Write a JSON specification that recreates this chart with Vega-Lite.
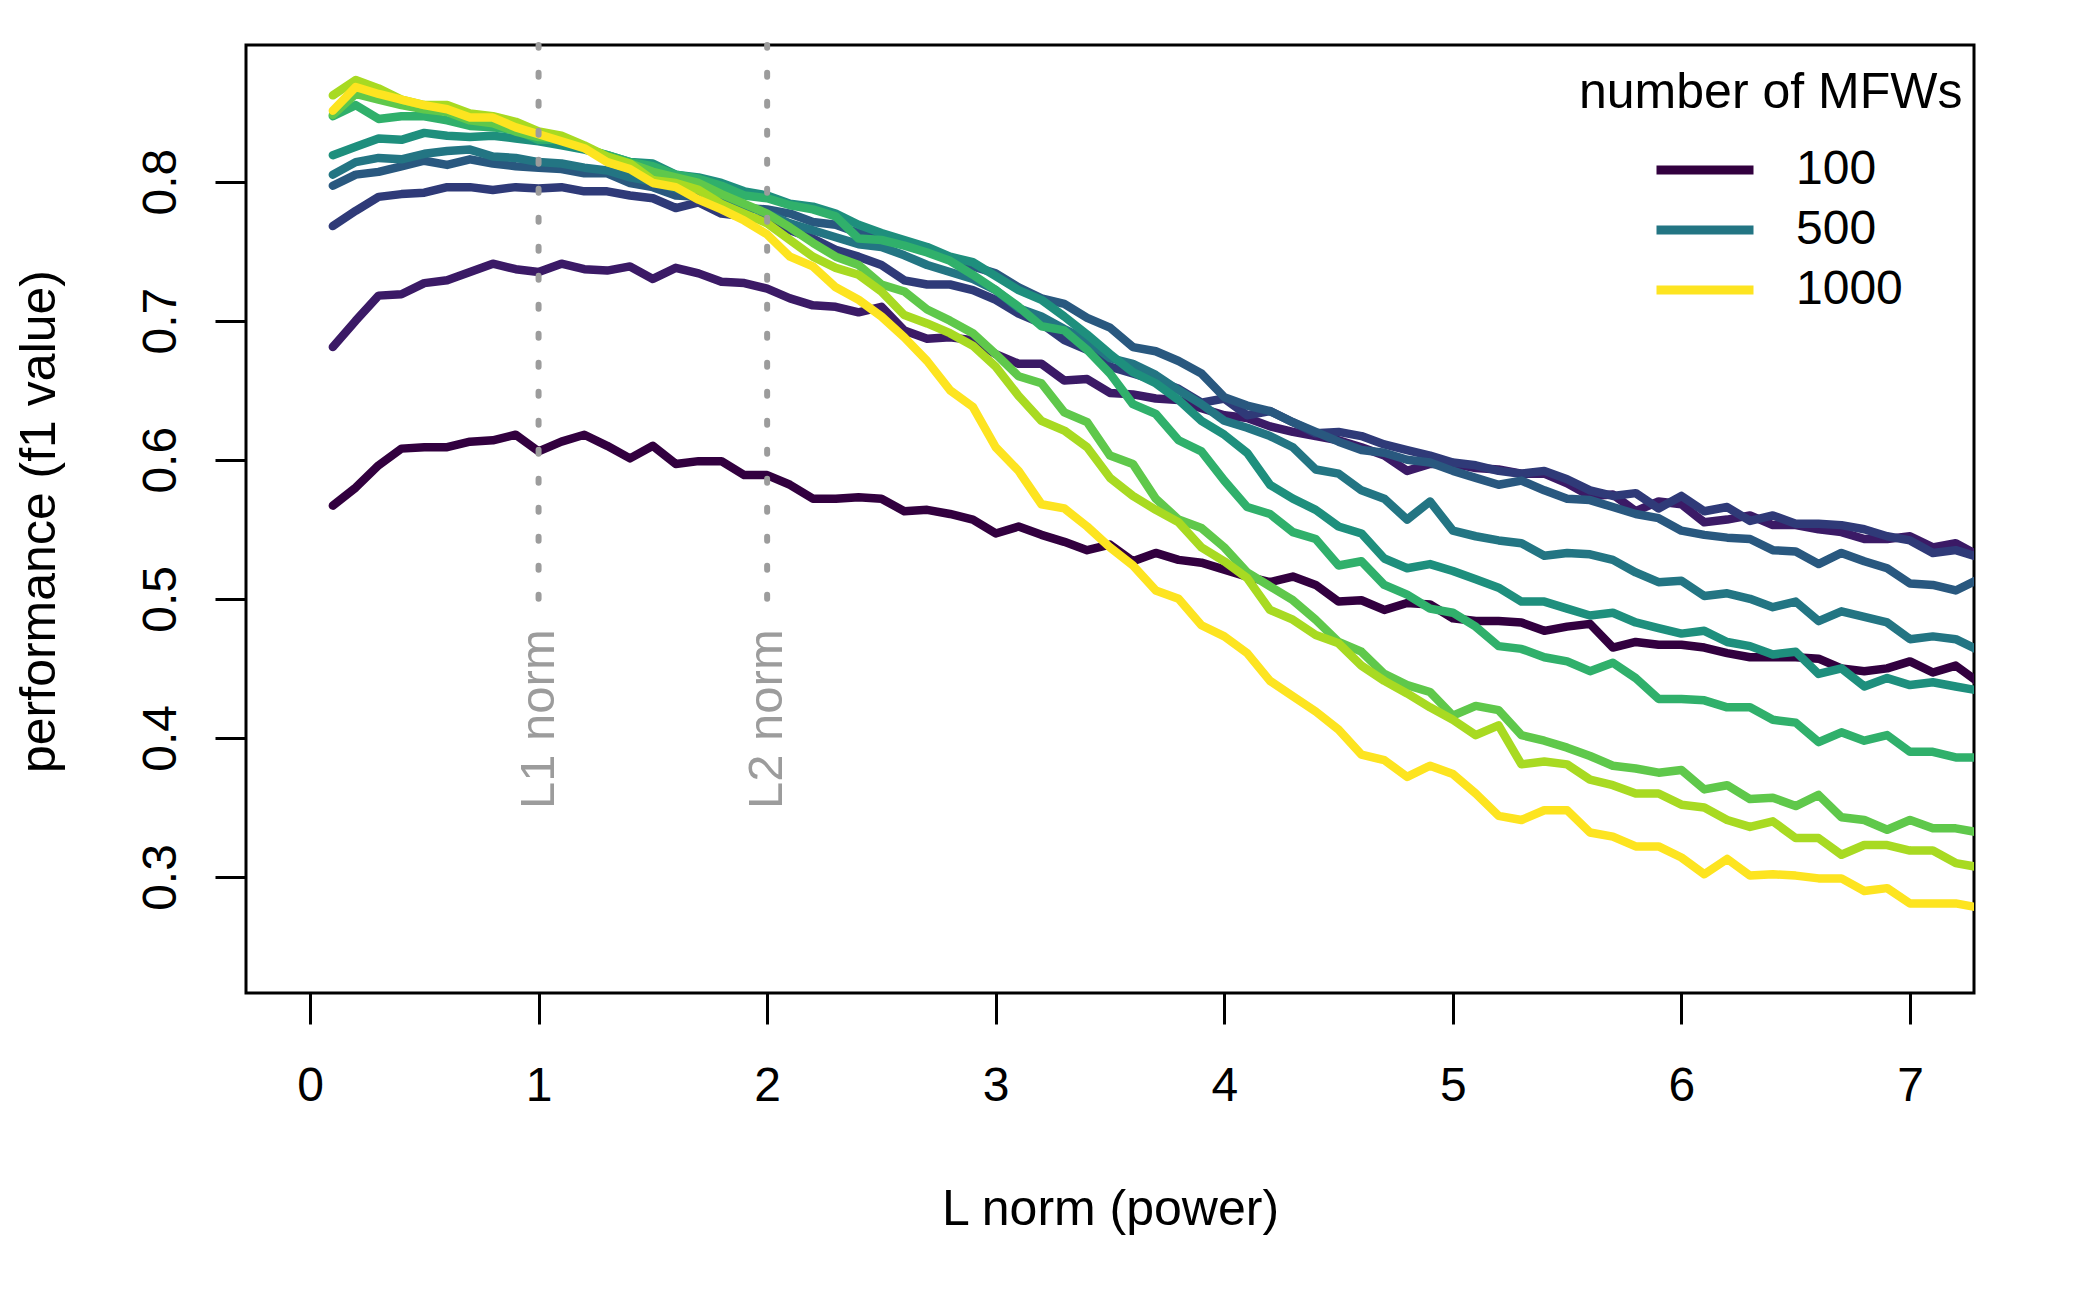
{
"$schema": "https://vega.github.io/schema/vega-lite/v6.json",
"width": 1728,
"height": 948,
"autosize": {"type": "none"},
"padding": {"left": 246, "top": 45, "right": 126, "bottom": 307},
"background": "white",
"config": {
"view": {"stroke": "black", "strokeWidth": 3},
"font": "Liberation Sans",
"axis": {"domain": false, "grid": false, "ticks": true, "tickColor": "black", "tickWidth": 3, "tickSize": 31, "labelFont": "Liberation Sans", "labelFontSize": 48, "labelColor": "black", "titleFont": "Liberation Sans", "titleFontSize": 50, "titleFontWeight": "normal", "titleColor": "black", "labelFlush": false, "labelOverlap": false}
},
"layer": [
{
"data": {"values": [
{"power":0.1,"mfw":100,"f1":0.567},{"power":0.2,"mfw":100,"f1":0.580},{"power":0.3,"mfw":100,"f1":0.596},{"power":0.4,"mfw":100,"f1":0.608},{"power":0.5,"mfw":100,"f1":0.609},{"power":0.6,"mfw":100,"f1":0.609},{"power":0.7,"mfw":100,"f1":0.613},{"power":0.8,"mfw":100,"f1":0.614},{"power":0.9,"mfw":100,"f1":0.618},{"power":1.0,"mfw":100,"f1":0.606},
{"power":1.1,"mfw":100,"f1":0.613},{"power":1.2,"mfw":100,"f1":0.618},{"power":1.3,"mfw":100,"f1":0.610},{"power":1.4,"mfw":100,"f1":0.601},{"power":1.5,"mfw":100,"f1":0.610},{"power":1.6,"mfw":100,"f1":0.597},{"power":1.7,"mfw":100,"f1":0.599},{"power":1.8,"mfw":100,"f1":0.599},{"power":1.9,"mfw":100,"f1":0.589},{"power":2.0,"mfw":100,"f1":0.589},
{"power":2.1,"mfw":100,"f1":0.582},{"power":2.2,"mfw":100,"f1":0.572},{"power":2.3,"mfw":100,"f1":0.572},{"power":2.4,"mfw":100,"f1":0.573},{"power":2.5,"mfw":100,"f1":0.572},{"power":2.6,"mfw":100,"f1":0.563},{"power":2.7,"mfw":100,"f1":0.564},{"power":2.8,"mfw":100,"f1":0.561},{"power":2.9,"mfw":100,"f1":0.557},{"power":3.0,"mfw":100,"f1":0.547},
{"power":3.1,"mfw":100,"f1":0.552},{"power":3.2,"mfw":100,"f1":0.546},{"power":3.3,"mfw":100,"f1":0.541},{"power":3.4,"mfw":100,"f1":0.535},{"power":3.5,"mfw":100,"f1":0.539},{"power":3.6,"mfw":100,"f1":0.527},{"power":3.7,"mfw":100,"f1":0.533},{"power":3.8,"mfw":100,"f1":0.528},{"power":3.9,"mfw":100,"f1":0.526},{"power":4.0,"mfw":100,"f1":0.521},
{"power":4.1,"mfw":100,"f1":0.516},{"power":4.2,"mfw":100,"f1":0.512},{"power":4.3,"mfw":100,"f1":0.516},{"power":4.4,"mfw":100,"f1":0.510},{"power":4.5,"mfw":100,"f1":0.498},{"power":4.6,"mfw":100,"f1":0.499},{"power":4.7,"mfw":100,"f1":0.492},{"power":4.8,"mfw":100,"f1":0.497},{"power":4.9,"mfw":100,"f1":0.496},{"power":5.0,"mfw":100,"f1":0.486},
{"power":5.1,"mfw":100,"f1":0.484},{"power":5.2,"mfw":100,"f1":0.484},{"power":5.3,"mfw":100,"f1":0.483},{"power":5.4,"mfw":100,"f1":0.477},{"power":5.5,"mfw":100,"f1":0.480},{"power":5.6,"mfw":100,"f1":0.482},{"power":5.7,"mfw":100,"f1":0.465},{"power":5.8,"mfw":100,"f1":0.469},{"power":5.9,"mfw":100,"f1":0.467},{"power":6.0,"mfw":100,"f1":0.467},
{"power":6.1,"mfw":100,"f1":0.465},{"power":6.2,"mfw":100,"f1":0.461},{"power":6.3,"mfw":100,"f1":0.458},{"power":6.4,"mfw":100,"f1":0.458},{"power":6.5,"mfw":100,"f1":0.458},{"power":6.6,"mfw":100,"f1":0.457},{"power":6.7,"mfw":100,"f1":0.450},{"power":6.8,"mfw":100,"f1":0.448},{"power":6.9,"mfw":100,"f1":0.450},{"power":7.0,"mfw":100,"f1":0.455},
{"power":7.1,"mfw":100,"f1":0.447},{"power":7.2,"mfw":100,"f1":0.452},{"power":7.3,"mfw":100,"f1":0.440},
{"power":0.1,"mfw":200,"f1":0.681},{"power":0.2,"mfw":200,"f1":0.700},{"power":0.3,"mfw":200,"f1":0.718},{"power":0.4,"mfw":200,"f1":0.719},{"power":0.5,"mfw":200,"f1":0.727},{"power":0.6,"mfw":200,"f1":0.729},{"power":0.7,"mfw":200,"f1":0.735},{"power":0.8,"mfw":200,"f1":0.741},{"power":0.9,"mfw":200,"f1":0.737},{"power":1.0,"mfw":200,"f1":0.735},
{"power":1.1,"mfw":200,"f1":0.741},{"power":1.2,"mfw":200,"f1":0.737},{"power":1.3,"mfw":200,"f1":0.736},{"power":1.4,"mfw":200,"f1":0.739},{"power":1.5,"mfw":200,"f1":0.730},{"power":1.6,"mfw":200,"f1":0.738},{"power":1.7,"mfw":200,"f1":0.734},{"power":1.8,"mfw":200,"f1":0.728},{"power":1.9,"mfw":200,"f1":0.727},{"power":2.0,"mfw":200,"f1":0.723},
{"power":2.1,"mfw":200,"f1":0.716},{"power":2.2,"mfw":200,"f1":0.711},{"power":2.3,"mfw":200,"f1":0.710},{"power":2.4,"mfw":200,"f1":0.706},{"power":2.5,"mfw":200,"f1":0.710},{"power":2.6,"mfw":200,"f1":0.693},{"power":2.7,"mfw":200,"f1":0.687},{"power":2.8,"mfw":200,"f1":0.688},{"power":2.9,"mfw":200,"f1":0.686},{"power":3.0,"mfw":200,"f1":0.676},
{"power":3.1,"mfw":200,"f1":0.669},{"power":3.2,"mfw":200,"f1":0.669},{"power":3.3,"mfw":200,"f1":0.657},{"power":3.4,"mfw":200,"f1":0.658},{"power":3.5,"mfw":200,"f1":0.648},{"power":3.6,"mfw":200,"f1":0.647},{"power":3.7,"mfw":200,"f1":0.644},{"power":3.8,"mfw":200,"f1":0.643},{"power":3.9,"mfw":200,"f1":0.637},{"power":4.0,"mfw":200,"f1":0.632},
{"power":4.1,"mfw":200,"f1":0.630},{"power":4.2,"mfw":200,"f1":0.624},{"power":4.3,"mfw":200,"f1":0.620},{"power":4.4,"mfw":200,"f1":0.617},{"power":4.5,"mfw":200,"f1":0.614},{"power":4.6,"mfw":200,"f1":0.609},{"power":4.7,"mfw":200,"f1":0.603},{"power":4.8,"mfw":200,"f1":0.592},{"power":4.9,"mfw":200,"f1":0.597},{"power":5.0,"mfw":200,"f1":0.597},
{"power":5.1,"mfw":200,"f1":0.594},{"power":5.2,"mfw":200,"f1":0.593},{"power":5.3,"mfw":200,"f1":0.590},{"power":5.4,"mfw":200,"f1":0.590},{"power":5.5,"mfw":200,"f1":0.583},{"power":5.6,"mfw":200,"f1":0.574},{"power":5.7,"mfw":200,"f1":0.575},{"power":5.8,"mfw":200,"f1":0.563},{"power":5.9,"mfw":200,"f1":0.570},{"power":6.0,"mfw":200,"f1":0.568},
{"power":6.1,"mfw":200,"f1":0.555},{"power":6.2,"mfw":200,"f1":0.557},{"power":6.3,"mfw":200,"f1":0.560},{"power":6.4,"mfw":200,"f1":0.553},{"power":6.5,"mfw":200,"f1":0.553},{"power":6.6,"mfw":200,"f1":0.550},{"power":6.7,"mfw":200,"f1":0.548},{"power":6.8,"mfw":200,"f1":0.543},{"power":6.9,"mfw":200,"f1":0.543},{"power":7.0,"mfw":200,"f1":0.545},
{"power":7.1,"mfw":200,"f1":0.537},{"power":7.2,"mfw":200,"f1":0.540},{"power":7.3,"mfw":200,"f1":0.531},
{"power":0.1,"mfw":300,"f1":0.768},{"power":0.2,"mfw":300,"f1":0.779},{"power":0.3,"mfw":300,"f1":0.789},{"power":0.4,"mfw":300,"f1":0.791},{"power":0.5,"mfw":300,"f1":0.792},{"power":0.6,"mfw":300,"f1":0.796},{"power":0.7,"mfw":300,"f1":0.796},{"power":0.8,"mfw":300,"f1":0.794},{"power":0.9,"mfw":300,"f1":0.796},{"power":1.0,"mfw":300,"f1":0.795},
{"power":1.1,"mfw":300,"f1":0.796},{"power":1.2,"mfw":300,"f1":0.793},{"power":1.3,"mfw":300,"f1":0.793},{"power":1.4,"mfw":300,"f1":0.790},{"power":1.5,"mfw":300,"f1":0.788},{"power":1.6,"mfw":300,"f1":0.781},{"power":1.7,"mfw":300,"f1":0.785},{"power":1.8,"mfw":300,"f1":0.777},{"power":1.9,"mfw":300,"f1":0.775},{"power":2.0,"mfw":300,"f1":0.772},
{"power":2.1,"mfw":300,"f1":0.765},{"power":2.2,"mfw":300,"f1":0.759},{"power":2.3,"mfw":300,"f1":0.751},{"power":2.4,"mfw":300,"f1":0.746},{"power":2.5,"mfw":300,"f1":0.740},{"power":2.6,"mfw":300,"f1":0.729},{"power":2.7,"mfw":300,"f1":0.726},{"power":2.8,"mfw":300,"f1":0.726},{"power":2.9,"mfw":300,"f1":0.722},{"power":3.0,"mfw":300,"f1":0.715},
{"power":3.1,"mfw":300,"f1":0.705},{"power":3.2,"mfw":300,"f1":0.698},{"power":3.3,"mfw":300,"f1":0.686},{"power":3.4,"mfw":300,"f1":0.679},{"power":3.5,"mfw":300,"f1":0.667},{"power":3.6,"mfw":300,"f1":0.662},{"power":3.7,"mfw":300,"f1":0.657},{"power":3.8,"mfw":300,"f1":0.651},{"power":3.9,"mfw":300,"f1":0.641},{"power":4.0,"mfw":300,"f1":0.644},
{"power":4.1,"mfw":300,"f1":0.632},{"power":4.2,"mfw":300,"f1":0.635},{"power":4.3,"mfw":300,"f1":0.627},{"power":4.4,"mfw":300,"f1":0.619},{"power":4.5,"mfw":300,"f1":0.620},{"power":4.6,"mfw":300,"f1":0.617},{"power":4.7,"mfw":300,"f1":0.611},{"power":4.8,"mfw":300,"f1":0.607},{"power":4.9,"mfw":300,"f1":0.603},{"power":5.0,"mfw":300,"f1":0.598},
{"power":5.1,"mfw":300,"f1":0.596},{"power":5.2,"mfw":300,"f1":0.592},{"power":5.3,"mfw":300,"f1":0.590},{"power":5.4,"mfw":300,"f1":0.592},{"power":5.5,"mfw":300,"f1":0.586},{"power":5.6,"mfw":300,"f1":0.578},{"power":5.7,"mfw":300,"f1":0.574},{"power":5.8,"mfw":300,"f1":0.576},{"power":5.9,"mfw":300,"f1":0.565},{"power":6.0,"mfw":300,"f1":0.574},
{"power":6.1,"mfw":300,"f1":0.563},{"power":6.2,"mfw":300,"f1":0.566},{"power":6.3,"mfw":300,"f1":0.556},{"power":6.4,"mfw":300,"f1":0.560},{"power":6.5,"mfw":300,"f1":0.554},{"power":6.6,"mfw":300,"f1":0.554},{"power":6.7,"mfw":300,"f1":0.553},{"power":6.8,"mfw":300,"f1":0.550},{"power":6.9,"mfw":300,"f1":0.545},{"power":7.0,"mfw":300,"f1":0.542},
{"power":7.1,"mfw":300,"f1":0.533},{"power":7.2,"mfw":300,"f1":0.535},{"power":7.3,"mfw":300,"f1":0.530},
{"power":0.1,"mfw":400,"f1":0.797},{"power":0.2,"mfw":400,"f1":0.805},{"power":0.3,"mfw":400,"f1":0.807},{"power":0.4,"mfw":400,"f1":0.811},{"power":0.5,"mfw":400,"f1":0.815},{"power":0.6,"mfw":400,"f1":0.812},{"power":0.7,"mfw":400,"f1":0.816},{"power":0.8,"mfw":400,"f1":0.813},{"power":0.9,"mfw":400,"f1":0.811},{"power":1.0,"mfw":400,"f1":0.810},
{"power":1.1,"mfw":400,"f1":0.809},{"power":1.2,"mfw":400,"f1":0.806},{"power":1.3,"mfw":400,"f1":0.806},{"power":1.4,"mfw":400,"f1":0.799},{"power":1.5,"mfw":400,"f1":0.796},{"power":1.6,"mfw":400,"f1":0.790},{"power":1.7,"mfw":400,"f1":0.789},{"power":1.8,"mfw":400,"f1":0.784},{"power":1.9,"mfw":400,"f1":0.781},{"power":2.0,"mfw":400,"f1":0.780},
{"power":2.1,"mfw":400,"f1":0.777},{"power":2.2,"mfw":400,"f1":0.771},{"power":2.3,"mfw":400,"f1":0.769},{"power":2.4,"mfw":400,"f1":0.763},{"power":2.5,"mfw":400,"f1":0.758},{"power":2.6,"mfw":400,"f1":0.755},{"power":2.7,"mfw":400,"f1":0.752},{"power":2.8,"mfw":400,"f1":0.745},{"power":2.9,"mfw":400,"f1":0.739},{"power":3.0,"mfw":400,"f1":0.734},
{"power":3.1,"mfw":400,"f1":0.724},{"power":3.2,"mfw":400,"f1":0.716},{"power":3.3,"mfw":400,"f1":0.712},{"power":3.4,"mfw":400,"f1":0.702},{"power":3.5,"mfw":400,"f1":0.695},{"power":3.6,"mfw":400,"f1":0.681},{"power":3.7,"mfw":400,"f1":0.678},{"power":3.8,"mfw":400,"f1":0.671},{"power":3.9,"mfw":400,"f1":0.662},{"power":4.0,"mfw":400,"f1":0.645},
{"power":4.1,"mfw":400,"f1":0.639},{"power":4.2,"mfw":400,"f1":0.635},{"power":4.3,"mfw":400,"f1":0.627},{"power":4.4,"mfw":400,"f1":0.620},{"power":4.5,"mfw":400,"f1":0.613},{"power":4.6,"mfw":400,"f1":0.607},{"power":4.7,"mfw":400,"f1":0.605},{"power":4.8,"mfw":400,"f1":0.600},{"power":4.9,"mfw":400,"f1":0.598},{"power":5.0,"mfw":400,"f1":0.592},
{"power":5.1,"mfw":400,"f1":0.587},{"power":5.2,"mfw":400,"f1":0.582},{"power":5.3,"mfw":400,"f1":0.585},{"power":5.4,"mfw":400,"f1":0.578},{"power":5.5,"mfw":400,"f1":0.572},{"power":5.6,"mfw":400,"f1":0.571},{"power":5.7,"mfw":400,"f1":0.566},{"power":5.8,"mfw":400,"f1":0.561},{"power":5.9,"mfw":400,"f1":0.558},{"power":6.0,"mfw":400,"f1":0.549},
{"power":6.1,"mfw":400,"f1":0.546},{"power":6.2,"mfw":400,"f1":0.544},{"power":6.3,"mfw":400,"f1":0.543},{"power":6.4,"mfw":400,"f1":0.535},{"power":6.5,"mfw":400,"f1":0.534},{"power":6.6,"mfw":400,"f1":0.525},{"power":6.7,"mfw":400,"f1":0.533},{"power":6.8,"mfw":400,"f1":0.527},{"power":6.9,"mfw":400,"f1":0.522},{"power":7.0,"mfw":400,"f1":0.511},
{"power":7.1,"mfw":400,"f1":0.510},{"power":7.2,"mfw":400,"f1":0.506},{"power":7.3,"mfw":400,"f1":0.514},
{"power":0.1,"mfw":500,"f1":0.805},{"power":0.2,"mfw":500,"f1":0.814},{"power":0.3,"mfw":500,"f1":0.817},{"power":0.4,"mfw":500,"f1":0.816},{"power":0.5,"mfw":500,"f1":0.820},{"power":0.6,"mfw":500,"f1":0.822},{"power":0.7,"mfw":500,"f1":0.823},{"power":0.8,"mfw":500,"f1":0.818},{"power":0.9,"mfw":500,"f1":0.817},{"power":1.0,"mfw":500,"f1":0.814},
{"power":1.1,"mfw":500,"f1":0.813},{"power":1.2,"mfw":500,"f1":0.810},{"power":1.3,"mfw":500,"f1":0.808},{"power":1.4,"mfw":500,"f1":0.803},{"power":1.5,"mfw":500,"f1":0.800},{"power":1.6,"mfw":500,"f1":0.795},{"power":1.7,"mfw":500,"f1":0.790},{"power":1.8,"mfw":500,"f1":0.787},{"power":1.9,"mfw":500,"f1":0.783},{"power":2.0,"mfw":500,"f1":0.777},
{"power":2.1,"mfw":500,"f1":0.770},{"power":2.2,"mfw":500,"f1":0.765},{"power":2.3,"mfw":500,"f1":0.760},{"power":2.4,"mfw":500,"f1":0.755},{"power":2.5,"mfw":500,"f1":0.753},{"power":2.6,"mfw":500,"f1":0.747},{"power":2.7,"mfw":500,"f1":0.740},{"power":2.8,"mfw":500,"f1":0.735},{"power":2.9,"mfw":500,"f1":0.730},{"power":3.0,"mfw":500,"f1":0.722},
{"power":3.1,"mfw":500,"f1":0.709},{"power":3.2,"mfw":500,"f1":0.703},{"power":3.3,"mfw":500,"f1":0.694},{"power":3.4,"mfw":500,"f1":0.686},{"power":3.5,"mfw":500,"f1":0.673},{"power":3.6,"mfw":500,"f1":0.669},{"power":3.7,"mfw":500,"f1":0.661},{"power":3.8,"mfw":500,"f1":0.650},{"power":3.9,"mfw":500,"f1":0.640},{"power":4.0,"mfw":500,"f1":0.628},
{"power":4.1,"mfw":500,"f1":0.623},{"power":4.2,"mfw":500,"f1":0.617},{"power":4.3,"mfw":500,"f1":0.609},{"power":4.4,"mfw":500,"f1":0.593},{"power":4.5,"mfw":500,"f1":0.590},{"power":4.6,"mfw":500,"f1":0.578},{"power":4.7,"mfw":500,"f1":0.572},{"power":4.8,"mfw":500,"f1":0.557},{"power":4.9,"mfw":500,"f1":0.570},{"power":5.0,"mfw":500,"f1":0.549},
{"power":5.1,"mfw":500,"f1":0.545},{"power":5.2,"mfw":500,"f1":0.542},{"power":5.3,"mfw":500,"f1":0.540},{"power":5.4,"mfw":500,"f1":0.531},{"power":5.5,"mfw":500,"f1":0.533},{"power":5.6,"mfw":500,"f1":0.532},{"power":5.7,"mfw":500,"f1":0.528},{"power":5.8,"mfw":500,"f1":0.519},{"power":5.9,"mfw":500,"f1":0.512},{"power":6.0,"mfw":500,"f1":0.513},
{"power":6.1,"mfw":500,"f1":0.502},{"power":6.2,"mfw":500,"f1":0.504},{"power":6.3,"mfw":500,"f1":0.500},{"power":6.4,"mfw":500,"f1":0.494},{"power":6.5,"mfw":500,"f1":0.498},{"power":6.6,"mfw":500,"f1":0.484},{"power":6.7,"mfw":500,"f1":0.491},{"power":6.8,"mfw":500,"f1":0.487},{"power":6.9,"mfw":500,"f1":0.483},{"power":7.0,"mfw":500,"f1":0.471},
{"power":7.1,"mfw":500,"f1":0.473},{"power":7.2,"mfw":500,"f1":0.471},{"power":7.3,"mfw":500,"f1":0.463},
{"power":0.1,"mfw":600,"f1":0.819},{"power":0.2,"mfw":600,"f1":0.825},{"power":0.3,"mfw":600,"f1":0.831},{"power":0.4,"mfw":600,"f1":0.830},{"power":0.5,"mfw":600,"f1":0.835},{"power":0.6,"mfw":600,"f1":0.833},{"power":0.7,"mfw":600,"f1":0.832},{"power":0.8,"mfw":600,"f1":0.833},{"power":0.9,"mfw":600,"f1":0.831},{"power":1.0,"mfw":600,"f1":0.829},
{"power":1.1,"mfw":600,"f1":0.826},{"power":1.2,"mfw":600,"f1":0.823},{"power":1.3,"mfw":600,"f1":0.819},{"power":1.4,"mfw":600,"f1":0.814},{"power":1.5,"mfw":600,"f1":0.813},{"power":1.6,"mfw":600,"f1":0.805},{"power":1.7,"mfw":600,"f1":0.803},{"power":1.8,"mfw":600,"f1":0.799},{"power":1.9,"mfw":600,"f1":0.793},{"power":2.0,"mfw":600,"f1":0.790},
{"power":2.1,"mfw":600,"f1":0.784},{"power":2.2,"mfw":600,"f1":0.782},{"power":2.3,"mfw":600,"f1":0.777},{"power":2.4,"mfw":600,"f1":0.769},{"power":2.5,"mfw":600,"f1":0.763},{"power":2.6,"mfw":600,"f1":0.758},{"power":2.7,"mfw":600,"f1":0.753},{"power":2.8,"mfw":600,"f1":0.746},{"power":2.9,"mfw":600,"f1":0.742},{"power":3.0,"mfw":600,"f1":0.732},
{"power":3.1,"mfw":600,"f1":0.722},{"power":3.2,"mfw":600,"f1":0.715},{"power":3.3,"mfw":600,"f1":0.703},{"power":3.4,"mfw":600,"f1":0.690},{"power":3.5,"mfw":600,"f1":0.676},{"power":3.6,"mfw":600,"f1":0.663},{"power":3.7,"mfw":600,"f1":0.655},{"power":3.8,"mfw":600,"f1":0.643},{"power":3.9,"mfw":600,"f1":0.628},{"power":4.0,"mfw":600,"f1":0.618},
{"power":4.1,"mfw":600,"f1":0.605},{"power":4.2,"mfw":600,"f1":0.582},{"power":4.3,"mfw":600,"f1":0.572},{"power":4.4,"mfw":600,"f1":0.564},{"power":4.5,"mfw":600,"f1":0.552},{"power":4.6,"mfw":600,"f1":0.547},{"power":4.7,"mfw":600,"f1":0.529},{"power":4.8,"mfw":600,"f1":0.522},{"power":4.9,"mfw":600,"f1":0.525},{"power":5.0,"mfw":600,"f1":0.520},
{"power":5.1,"mfw":600,"f1":0.514},{"power":5.2,"mfw":600,"f1":0.508},{"power":5.3,"mfw":600,"f1":0.498},{"power":5.4,"mfw":600,"f1":0.498},{"power":5.5,"mfw":600,"f1":0.493},{"power":5.6,"mfw":600,"f1":0.488},{"power":5.7,"mfw":600,"f1":0.490},{"power":5.8,"mfw":600,"f1":0.483},{"power":5.9,"mfw":600,"f1":0.479},{"power":6.0,"mfw":600,"f1":0.475},
{"power":6.1,"mfw":600,"f1":0.477},{"power":6.2,"mfw":600,"f1":0.469},{"power":6.3,"mfw":600,"f1":0.466},{"power":6.4,"mfw":600,"f1":0.460},{"power":6.5,"mfw":600,"f1":0.462},{"power":6.6,"mfw":600,"f1":0.446},{"power":6.7,"mfw":600,"f1":0.450},{"power":6.8,"mfw":600,"f1":0.437},{"power":6.9,"mfw":600,"f1":0.443},{"power":7.0,"mfw":600,"f1":0.438},
{"power":7.1,"mfw":600,"f1":0.440},{"power":7.2,"mfw":600,"f1":0.437},{"power":7.3,"mfw":600,"f1":0.434},
{"power":0.1,"mfw":700,"f1":0.847},{"power":0.2,"mfw":700,"f1":0.855},{"power":0.3,"mfw":700,"f1":0.845},{"power":0.4,"mfw":700,"f1":0.847},{"power":0.5,"mfw":700,"f1":0.847},{"power":0.6,"mfw":700,"f1":0.844},{"power":0.7,"mfw":700,"f1":0.840},{"power":0.8,"mfw":700,"f1":0.839},{"power":0.9,"mfw":700,"f1":0.837},{"power":1.0,"mfw":700,"f1":0.830},
{"power":1.1,"mfw":700,"f1":0.830},{"power":1.2,"mfw":700,"f1":0.824},{"power":1.3,"mfw":700,"f1":0.819},{"power":1.4,"mfw":700,"f1":0.814},{"power":1.5,"mfw":700,"f1":0.811},{"power":1.6,"mfw":700,"f1":0.805},{"power":1.7,"mfw":700,"f1":0.802},{"power":1.8,"mfw":700,"f1":0.797},{"power":1.9,"mfw":700,"f1":0.790},{"power":2.0,"mfw":700,"f1":0.788},
{"power":2.1,"mfw":700,"f1":0.783},{"power":2.2,"mfw":700,"f1":0.780},{"power":2.3,"mfw":700,"f1":0.775},{"power":2.4,"mfw":700,"f1":0.759},{"power":2.5,"mfw":700,"f1":0.758},{"power":2.6,"mfw":700,"f1":0.754},{"power":2.7,"mfw":700,"f1":0.749},{"power":2.8,"mfw":700,"f1":0.743},{"power":2.9,"mfw":700,"f1":0.733},{"power":3.0,"mfw":700,"f1":0.722},
{"power":3.1,"mfw":700,"f1":0.710},{"power":3.2,"mfw":700,"f1":0.696},{"power":3.3,"mfw":700,"f1":0.693},{"power":3.4,"mfw":700,"f1":0.679},{"power":3.5,"mfw":700,"f1":0.662},{"power":3.6,"mfw":700,"f1":0.640},{"power":3.7,"mfw":700,"f1":0.633},{"power":3.8,"mfw":700,"f1":0.614},{"power":3.9,"mfw":700,"f1":0.606},{"power":4.0,"mfw":700,"f1":0.585},
{"power":4.1,"mfw":700,"f1":0.566},{"power":4.2,"mfw":700,"f1":0.561},{"power":4.3,"mfw":700,"f1":0.548},{"power":4.4,"mfw":700,"f1":0.543},{"power":4.5,"mfw":700,"f1":0.524},{"power":4.6,"mfw":700,"f1":0.527},{"power":4.7,"mfw":700,"f1":0.510},{"power":4.8,"mfw":700,"f1":0.503},{"power":4.9,"mfw":700,"f1":0.493},{"power":5.0,"mfw":700,"f1":0.490},
{"power":5.1,"mfw":700,"f1":0.480},{"power":5.2,"mfw":700,"f1":0.466},{"power":5.3,"mfw":700,"f1":0.464},{"power":5.4,"mfw":700,"f1":0.458},{"power":5.5,"mfw":700,"f1":0.455},{"power":5.6,"mfw":700,"f1":0.448},{"power":5.7,"mfw":700,"f1":0.454},{"power":5.8,"mfw":700,"f1":0.443},{"power":5.9,"mfw":700,"f1":0.428},{"power":6.0,"mfw":700,"f1":0.428},
{"power":6.1,"mfw":700,"f1":0.427},{"power":6.2,"mfw":700,"f1":0.422},{"power":6.3,"mfw":700,"f1":0.422},{"power":6.4,"mfw":700,"f1":0.413},{"power":6.5,"mfw":700,"f1":0.411},{"power":6.6,"mfw":700,"f1":0.397},{"power":6.7,"mfw":700,"f1":0.404},{"power":6.8,"mfw":700,"f1":0.398},{"power":6.9,"mfw":700,"f1":0.402},{"power":7.0,"mfw":700,"f1":0.390},
{"power":7.1,"mfw":700,"f1":0.390},{"power":7.2,"mfw":700,"f1":0.386},{"power":7.3,"mfw":700,"f1":0.386},
{"power":0.1,"mfw":800,"f1":0.848},{"power":0.2,"mfw":800,"f1":0.863},{"power":0.3,"mfw":800,"f1":0.859},{"power":0.4,"mfw":800,"f1":0.855},{"power":0.5,"mfw":800,"f1":0.852},{"power":0.6,"mfw":800,"f1":0.850},{"power":0.7,"mfw":800,"f1":0.844},{"power":0.8,"mfw":800,"f1":0.842},{"power":0.9,"mfw":800,"f1":0.836},{"power":1.0,"mfw":800,"f1":0.832},
{"power":1.1,"mfw":800,"f1":0.831},{"power":1.2,"mfw":800,"f1":0.825},{"power":1.3,"mfw":800,"f1":0.818},{"power":1.4,"mfw":800,"f1":0.813},{"power":1.5,"mfw":800,"f1":0.807},{"power":1.6,"mfw":800,"f1":0.803},{"power":1.7,"mfw":800,"f1":0.799},{"power":1.8,"mfw":800,"f1":0.791},{"power":1.9,"mfw":800,"f1":0.784},{"power":2.0,"mfw":800,"f1":0.777},
{"power":2.1,"mfw":800,"f1":0.767},{"power":2.2,"mfw":800,"f1":0.756},{"power":2.3,"mfw":800,"f1":0.746},{"power":2.4,"mfw":800,"f1":0.740},{"power":2.5,"mfw":800,"f1":0.726},{"power":2.6,"mfw":800,"f1":0.721},{"power":2.7,"mfw":800,"f1":0.708},{"power":2.8,"mfw":800,"f1":0.700},{"power":2.9,"mfw":800,"f1":0.691},{"power":3.0,"mfw":800,"f1":0.676},
{"power":3.1,"mfw":800,"f1":0.660},{"power":3.2,"mfw":800,"f1":0.655},{"power":3.3,"mfw":800,"f1":0.634},{"power":3.4,"mfw":800,"f1":0.627},{"power":3.5,"mfw":800,"f1":0.603},{"power":3.6,"mfw":800,"f1":0.597},{"power":3.7,"mfw":800,"f1":0.572},{"power":3.8,"mfw":800,"f1":0.557},{"power":3.9,"mfw":800,"f1":0.551},{"power":4.0,"mfw":800,"f1":0.537},
{"power":4.1,"mfw":800,"f1":0.519},{"power":4.2,"mfw":800,"f1":0.509},{"power":4.3,"mfw":800,"f1":0.499},{"power":4.4,"mfw":800,"f1":0.485},{"power":4.5,"mfw":800,"f1":0.469},{"power":4.6,"mfw":800,"f1":0.462},{"power":4.7,"mfw":800,"f1":0.446},{"power":4.8,"mfw":800,"f1":0.438},{"power":4.9,"mfw":800,"f1":0.433},{"power":5.0,"mfw":800,"f1":0.416},
{"power":5.1,"mfw":800,"f1":0.423},{"power":5.2,"mfw":800,"f1":0.420},{"power":5.3,"mfw":800,"f1":0.402},{"power":5.4,"mfw":800,"f1":0.398},{"power":5.5,"mfw":800,"f1":0.393},{"power":5.6,"mfw":800,"f1":0.387},{"power":5.7,"mfw":800,"f1":0.380},{"power":5.8,"mfw":800,"f1":0.378},{"power":5.9,"mfw":800,"f1":0.375},{"power":6.0,"mfw":800,"f1":0.377},
{"power":6.1,"mfw":800,"f1":0.363},{"power":6.2,"mfw":800,"f1":0.366},{"power":6.3,"mfw":800,"f1":0.356},{"power":6.4,"mfw":800,"f1":0.357},{"power":6.5,"mfw":800,"f1":0.351},{"power":6.6,"mfw":800,"f1":0.359},{"power":6.7,"mfw":800,"f1":0.343},{"power":6.8,"mfw":800,"f1":0.341},{"power":6.9,"mfw":800,"f1":0.334},{"power":7.0,"mfw":800,"f1":0.341},
{"power":7.1,"mfw":800,"f1":0.335},{"power":7.2,"mfw":800,"f1":0.335},{"power":7.3,"mfw":800,"f1":0.332},
{"power":0.1,"mfw":900,"f1":0.862},{"power":0.2,"mfw":900,"f1":0.873},{"power":0.3,"mfw":900,"f1":0.867},{"power":0.4,"mfw":900,"f1":0.859},{"power":0.5,"mfw":900,"f1":0.855},{"power":0.6,"mfw":900,"f1":0.855},{"power":0.7,"mfw":900,"f1":0.849},{"power":0.8,"mfw":900,"f1":0.847},{"power":0.9,"mfw":900,"f1":0.843},{"power":1.0,"mfw":900,"f1":0.836},
{"power":1.1,"mfw":900,"f1":0.833},{"power":1.2,"mfw":900,"f1":0.826},{"power":1.3,"mfw":900,"f1":0.818},{"power":1.4,"mfw":900,"f1":0.813},{"power":1.5,"mfw":900,"f1":0.801},{"power":1.6,"mfw":900,"f1":0.799},{"power":1.7,"mfw":900,"f1":0.794},{"power":1.8,"mfw":900,"f1":0.784},{"power":1.9,"mfw":900,"f1":0.777},{"power":2.0,"mfw":900,"f1":0.770},
{"power":2.1,"mfw":900,"f1":0.758},{"power":2.2,"mfw":900,"f1":0.746},{"power":2.3,"mfw":900,"f1":0.738},{"power":2.4,"mfw":900,"f1":0.733},{"power":2.5,"mfw":900,"f1":0.721},{"power":2.6,"mfw":900,"f1":0.704},{"power":2.7,"mfw":900,"f1":0.698},{"power":2.8,"mfw":900,"f1":0.691},{"power":2.9,"mfw":900,"f1":0.682},{"power":3.0,"mfw":900,"f1":0.667},
{"power":3.1,"mfw":900,"f1":0.646},{"power":3.2,"mfw":900,"f1":0.628},{"power":3.3,"mfw":900,"f1":0.621},{"power":3.4,"mfw":900,"f1":0.609},{"power":3.5,"mfw":900,"f1":0.587},{"power":3.6,"mfw":900,"f1":0.574},{"power":3.7,"mfw":900,"f1":0.564},{"power":3.8,"mfw":900,"f1":0.555},{"power":3.9,"mfw":900,"f1":0.537},{"power":4.0,"mfw":900,"f1":0.527},
{"power":4.1,"mfw":900,"f1":0.515},{"power":4.2,"mfw":900,"f1":0.492},{"power":4.3,"mfw":900,"f1":0.485},{"power":4.4,"mfw":900,"f1":0.474},{"power":4.5,"mfw":900,"f1":0.468},{"power":4.6,"mfw":900,"f1":0.452},{"power":4.7,"mfw":900,"f1":0.441},{"power":4.8,"mfw":900,"f1":0.432},{"power":4.9,"mfw":900,"f1":0.422},{"power":5.0,"mfw":900,"f1":0.413},
{"power":5.1,"mfw":900,"f1":0.402},{"power":5.2,"mfw":900,"f1":0.409},{"power":5.3,"mfw":900,"f1":0.381},{"power":5.4,"mfw":900,"f1":0.383},{"power":5.5,"mfw":900,"f1":0.381},{"power":5.6,"mfw":900,"f1":0.370},{"power":5.7,"mfw":900,"f1":0.366},{"power":5.8,"mfw":900,"f1":0.360},{"power":5.9,"mfw":900,"f1":0.360},{"power":6.0,"mfw":900,"f1":0.352},
{"power":6.1,"mfw":900,"f1":0.350},{"power":6.2,"mfw":900,"f1":0.341},{"power":6.3,"mfw":900,"f1":0.336},{"power":6.4,"mfw":900,"f1":0.340},{"power":6.5,"mfw":900,"f1":0.328},{"power":6.6,"mfw":900,"f1":0.328},{"power":6.7,"mfw":900,"f1":0.316},{"power":6.8,"mfw":900,"f1":0.323},{"power":6.9,"mfw":900,"f1":0.323},{"power":7.0,"mfw":900,"f1":0.319},
{"power":7.1,"mfw":900,"f1":0.319},{"power":7.2,"mfw":900,"f1":0.310},{"power":7.3,"mfw":900,"f1":0.307},
{"power":0.1,"mfw":1000,"f1":0.851},{"power":0.2,"mfw":1000,"f1":0.868},{"power":0.3,"mfw":1000,"f1":0.863},{"power":0.4,"mfw":1000,"f1":0.859},{"power":0.5,"mfw":1000,"f1":0.855},{"power":0.6,"mfw":1000,"f1":0.852},{"power":0.7,"mfw":1000,"f1":0.846},{"power":0.8,"mfw":1000,"f1":0.846},{"power":0.9,"mfw":1000,"f1":0.839},{"power":1.0,"mfw":1000,"f1":0.834},
{"power":1.1,"mfw":1000,"f1":0.829},{"power":1.2,"mfw":1000,"f1":0.824},{"power":1.3,"mfw":1000,"f1":0.814},{"power":1.4,"mfw":1000,"f1":0.809},{"power":1.5,"mfw":1000,"f1":0.799},{"power":1.6,"mfw":1000,"f1":0.796},{"power":1.7,"mfw":1000,"f1":0.787},{"power":1.8,"mfw":1000,"f1":0.780},{"power":1.9,"mfw":1000,"f1":0.772},{"power":2.0,"mfw":1000,"f1":0.762},
{"power":2.1,"mfw":1000,"f1":0.746},{"power":2.2,"mfw":1000,"f1":0.739},{"power":2.3,"mfw":1000,"f1":0.724},{"power":2.4,"mfw":1000,"f1":0.715},{"power":2.5,"mfw":1000,"f1":0.703},{"power":2.6,"mfw":1000,"f1":0.688},{"power":2.7,"mfw":1000,"f1":0.671},{"power":2.8,"mfw":1000,"f1":0.650},{"power":2.9,"mfw":1000,"f1":0.638},{"power":3.0,"mfw":1000,"f1":0.609},
{"power":3.1,"mfw":1000,"f1":0.592},{"power":3.2,"mfw":1000,"f1":0.568},{"power":3.3,"mfw":1000,"f1":0.565},{"power":3.4,"mfw":1000,"f1":0.552},{"power":3.5,"mfw":1000,"f1":0.537},{"power":3.6,"mfw":1000,"f1":0.524},{"power":3.7,"mfw":1000,"f1":0.506},{"power":3.8,"mfw":1000,"f1":0.500},{"power":3.9,"mfw":1000,"f1":0.481},{"power":4.0,"mfw":1000,"f1":0.473},
{"power":4.1,"mfw":1000,"f1":0.461},{"power":4.2,"mfw":1000,"f1":0.441},{"power":4.3,"mfw":1000,"f1":0.430},{"power":4.4,"mfw":1000,"f1":0.419},{"power":4.5,"mfw":1000,"f1":0.406},{"power":4.6,"mfw":1000,"f1":0.388},{"power":4.7,"mfw":1000,"f1":0.384},{"power":4.8,"mfw":1000,"f1":0.372},{"power":4.9,"mfw":1000,"f1":0.380},{"power":5.0,"mfw":1000,"f1":0.374},
{"power":5.1,"mfw":1000,"f1":0.360},{"power":5.2,"mfw":1000,"f1":0.344},{"power":5.3,"mfw":1000,"f1":0.341},{"power":5.4,"mfw":1000,"f1":0.348},{"power":5.5,"mfw":1000,"f1":0.348},{"power":5.6,"mfw":1000,"f1":0.332},{"power":5.7,"mfw":1000,"f1":0.329},{"power":5.8,"mfw":1000,"f1":0.322},{"power":5.9,"mfw":1000,"f1":0.322},{"power":6.0,"mfw":1000,"f1":0.314},
{"power":6.1,"mfw":1000,"f1":0.302},{"power":6.2,"mfw":1000,"f1":0.313},{"power":6.3,"mfw":1000,"f1":0.301},{"power":6.4,"mfw":1000,"f1":0.302},{"power":6.5,"mfw":1000,"f1":0.301},{"power":6.6,"mfw":1000,"f1":0.299},{"power":6.7,"mfw":1000,"f1":0.299},{"power":6.8,"mfw":1000,"f1":0.290},{"power":6.9,"mfw":1000,"f1":0.292},{"power":7.0,"mfw":1000,"f1":0.281},
{"power":7.1,"mfw":1000,"f1":0.281},{"power":7.2,"mfw":1000,"f1":0.281},{"power":7.3,"mfw":1000,"f1":0.278}
]},
"mark": {"type": "line", "strokeWidth": 8.5, "strokeCap": "round", "strokeJoin": "round", "clip": true},
"encoding": {
"x": {"field": "power", "type": "quantitative",
"scale": {"domain": [-0.28, 7.28], "nice": false, "zero": false},
"axis": {"values": [0,1,2,3,4,5,6,7], "format": "d", "title": "L norm (power)", "labelBaseline": "alphabetic", "labelPadding": 76, "titleX": 864, "titleY": 231, "titleBaseline": "alphabetic", "titleAlign": "center", "titleAnchor": null}},
"y": {"field": "f1", "type": "quantitative",
"scale": {"domain": [0.2166, 0.8982], "nice": false, "zero": false},
"axis": {"values": [0.3,0.4,0.5,0.6,0.7,0.8], "format": ".1f", "title": "performance (f1 value)", "labelAngle": 270, "labelAlign": "center", "labelBaseline": "alphabetic", "labelPadding": 40, "titleAngle": 270, "titleX": -192, "titleY": 476, "titleAlign": "center", "titleBaseline": "alphabetic", "titleAnchor": null}},
"color": {"field": "mfw", "type": "ordinal",
"scale": {"domain": [100,200,300,400,500,600,700,800,900,1000], "range": ["#32003f","#3b1a66","#2f3a78","#29587f","#237583","#1e8f7d","#30b06b","#5fc84b","#a8da22","#fde420"]},
"legend": {"values": [100,500,1000], "title": "number of MFWs", "orient": "none", "legendX": 1333, "legendY": 23, "padding": 0, "titleFontSize": 50, "titleFont": "Liberation Sans", "titleFontWeight": "normal", "titleColor": "black", "titleLimit": 1000, "titleBaseline": "top", "titlePadding": 22, "labelFontSize": 48, "labelFont": "Liberation Sans", "labelColor": "black", "labelBaseline": "middle", "labelOffset": 38, "symbolType": "stroke", "symbolSize": 9409, "symbolStrokeWidth": 9, "symbolOffset": 73, "clipHeight": 60, "rowPadding": 0}}
}
},
{
"data": {"values": [{"power": 1, "label": "L1 norm"}, {"power": 2, "label": "L2 norm"}]},
"mark": {"type": "rule", "color": "#9c9c9c", "strokeWidth": 6, "strokeDash": [4, 25], "strokeCap": "round"},
"encoding": {
"x": {"field": "power", "type": "quantitative"},
"y": {"datum": 0.5},
"y2": {"datum": 0.8982}
}
},
{
"data": {"values": [{"power": 1, "label": "L1 norm"}, {"power": 2, "label": "L2 norm"}]},
"mark": {"type": "text", "angle": 270, "align": "center", "baseline": "middle", "fontSize": 49, "font": "Liberation Sans", "color": "#9c9c9c"},
"encoding": {
"x": {"field": "power", "type": "quantitative"},
"y": {"datum": 0.4135},
"text": {"field": "label"}
}
}
]
}
